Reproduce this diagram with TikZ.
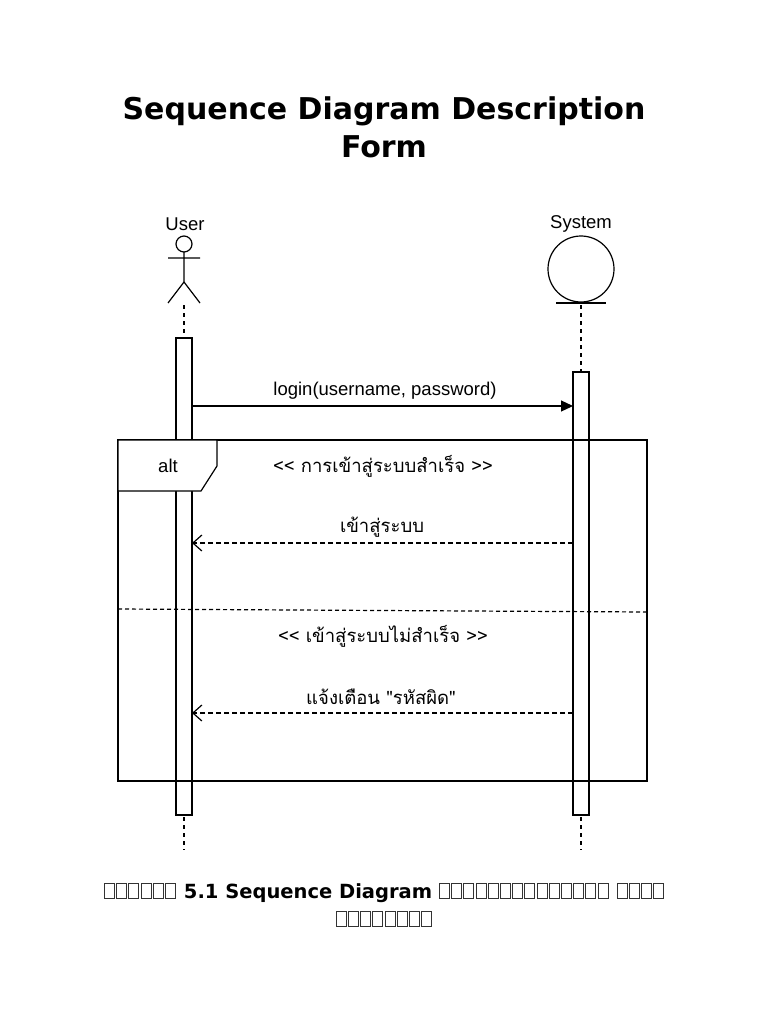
\documentclass[tikz,border=0pt]{standalone}
\usepackage{fontspec}
\setmainfont{Liberation Sans}
\newfontfamily\thaifont[Script=Thai]{Loma}
\newfontfamily\djv{DejaVu Sans}
\usetikzlibrary{arrows.meta,positioning}
\newcommand{\tofu}[1]{\foreach \k in {1,...,#1}{\tikz[baseline=0pt]\draw[line width=0.9pt,black!80] (0,-0.5pt) rectangle (10pt,14.5pt);\hspace{1.3pt}}}
\tikzset{
  lbl/.style={font=\fontsize{18.5}{21}\selectfont},
  thl/.style={font=\fontsize{18.5}{21}\selectfont\thaifont},
  lifeline/.style={dashed,line width=1.2pt,dash pattern=on 4pt off 4pt},
  act/.style={draw,line width=1.2pt,fill=white},
  msg/.style={line width=1.2pt,-{Triangle[length=12pt,width=11pt]}},
  ret/.style={line width=1.2pt,dash pattern=on 5pt off 3pt,-{Straight Barb[length=9pt,width=16pt]}}
}
\begin{document}
\begin{tikzpicture}[x=1pt,y=-1pt]
  \useasboundingbox (0,0) rectangle (768,1024);

  % ---- Title ----------------------------------------------
  \node[font=\fontsize{30}{35}\selectfont\djv\bfseries] (title) at (384,111) {Sequence Diagram Description};
  \node[font=\fontsize{30}{35}\selectfont\djv\bfseries] (title2) at (384,147) {Form};

  % ---- Actors ---------------------------------------------
  \node[lbl] (user) at (185,224) {User};
  \draw[line width=1.2pt] (184,244) circle (8);
  \draw[line width=1.2pt] (184,252) -- (184,282) (168,258) -- (200,258)
    (168,303) -- (184,282) -- (200,303);
  \node[lbl] (system) at (581,224) {System};
  \draw[line width=1.2pt] (581,269) circle (33);
  \draw[line width=1.2pt] (556,303) -- (606,303);

  % ---- Lifelines and activations --------------------------
  \draw[lifeline] (184,305) -- (184,850);
  \draw[lifeline] (581,305) -- (581,850);
  \draw[act] (176,338) rectangle (192,815);
  \draw[act] (573,372) rectangle (589,815);
  \coordinate (u1) at (192,406); \coordinate (s1) at (573,406);
  \coordinate (u2) at (192,543); \coordinate (s2) at (573,543);
  \coordinate (u3) at (192,713); \coordinate (s3) at (573,713);

  % ---- Messages -------------------------------------------
  \draw[msg] (u1) -- (s1);
  \node[lbl] (login) at (385,391) {login(username, password)};

  % ---- alt frame ------------------------------------------
  \draw[line width=1.2pt] (118,440) rectangle (647,781);
  \draw[line width=1.2pt,fill=white] (118,440) -- (118,491) -- (201,491) -- (217,466) -- (217,440) -- cycle;
  \node[lbl] (alt) at (168,466) {alt};
  \node[thl] (g1) at (383,466) {<< การเข้าสู่ระบบสำเร็จ >>};
  \draw[ret] (s2) -- (u2);
  \node[thl] (r1) at (382,527) {เข้าสู่ระบบ};
  \draw[line width=1.2pt,dash pattern=on 4pt off 3pt] (118,609) -- (647,612);
  \node[thl] (g2) at (383,636) {<< เข้าสู่ระบบไม่สำเร็จ >>};
  \draw[ret] (s3) -- (u3);
  \node[thl] (r2) at (381,697) {แจ้งเตือน "รหัสผิด"};

  % ---- Caption --------------------------------------------
  \node[font=\fontsize{19.5}{23}\selectfont\djv\bfseries] (cap1) at (384,893)
    {\tofu{6} 5.1 Sequence Diagram \tofu{14} \tofu{4}};
  \node[font=\fontsize{19.5}{23}\selectfont\djv\bfseries] (cap2) at (384,919) {\tofu{8}};
\end{tikzpicture}
\end{document}
